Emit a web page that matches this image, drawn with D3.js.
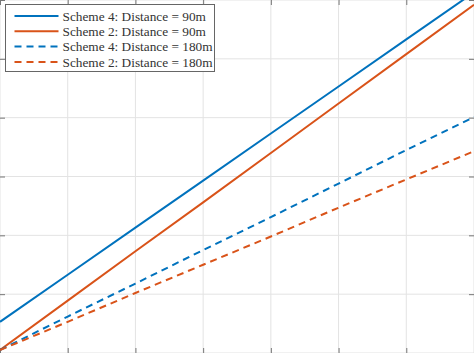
<!DOCTYPE html>
<html>
<head>
<meta charset="utf-8">
<script src="https://cdn.jsdelivr.net/npm/d3@7"></script>
<style>
  html, body { margin: 0; padding: 0; background: #fff; }
  svg { display: block; }
</style>
</head>
<body>
<div id="graph"></div>
<script>
// data (axis units: 7 x-intervals, 6 y-intervals, no labels shown)
let xValues = [0, 1, 2, 3, 4, 5, 6, 7];
let scheme4d90 = [0.53, 1.33, 2.13, 2.93, 3.73, 4.53, 5.33, 6.13];
let scheme2d90 = [0.05, 0.89, 1.73, 2.56, 3.40, 4.24, 5.08, 5.92];
let scheme4d180 = [0.05, 0.62, 1.18, 1.75, 2.31, 2.88, 3.45, 4.01];
let scheme2d180 = [0.05, 0.53, 1.02, 1.50, 1.98, 2.47, 2.95, 3.43];
let seriesNames = [
  "Scheme 4: Distance = 90m",
  "Scheme 2: Distance = 90m",
  "Scheme 4: Distance = 180m",
  "Scheme 2: Distance = 180m",
];
let xTicks = [0, 1, 2, 3, 4, 5, 6, 7];
let yTicks = [0, 1, 2, 3, 4, 5, 6];

let width = 474,
  height = 353;

let svg = d3
  .select("#graph")
  .append("svg")
  .attr("width", width)
  .attr("height", height);

let x = d3.scaleLinear().domain([0, 7]).range([0, width]);
let y = d3.scaleLinear().domain([0, 6]).range([height, 0]);

// grid
svg
  .append("g")
  .selectAll("line")
  .data(xTicks)
  .join("line")
  .attr("x1", (d) => x(d))
  .attr("x2", (d) => x(d))
  .attr("y1", 0)
  .attr("y2", height)
  .attr("stroke", "#e3e3e3")
  .attr("stroke-width", 1);
svg
  .append("g")
  .selectAll("line")
  .data(yTicks)
  .join("line")
  .attr("x1", 0)
  .attr("x2", width)
  .attr("y1", (d) => y(d))
  .attr("y2", (d) => y(d))
  .attr("stroke", "#e3e3e3")
  .attr("stroke-width", 1);

// tick marks on all four sides, pointing inward
let tickColor = "#777";
svg.append("g").attr("transform", "translate(0," + height + ")")
  .call(d3.axisTop(x).tickValues(xTicks).tickSize(5).tickFormat(""));
svg.append("g")
  .call(d3.axisBottom(x).tickValues(xTicks).tickSize(5).tickFormat(""));
svg.append("g")
  .call(d3.axisRight(y).tickValues(yTicks).tickSize(5).tickFormat(""));
svg.append("g").attr("transform", "translate(" + width + ",0)")
  .call(d3.axisLeft(y).tickValues(yTicks).tickSize(5).tickFormat(""));
svg.selectAll(".domain").remove();
svg.selectAll(".tick line").attr("stroke", tickColor);

// lines
svg.append("clipPath").attr("id", "clip")
  .append("rect").attr("width", width).attr("height", height);

let blue = "#0072BD",
  orange = "#D95319";
let series = [
  { name: seriesNames[0], values: scheme4d90, color: blue, dash: null },
  { name: seriesNames[1], values: scheme2d90, color: orange, dash: null },
  { name: seriesNames[2], values: scheme4d180, color: blue, dash: "7,5" },
  { name: seriesNames[3], values: scheme2d180, color: orange, dash: "7,5" },
];

let line = d3
  .line()
  .x((d, i) => x(xValues[i]))
  .y((d) => y(d));

svg
  .append("g")
  .attr("clip-path", "url(#clip)")
  .selectAll("path")
  .data(series)
  .join("path")
  .attr("d", (d) => line(d.values))
  .attr("fill", "none")
  .attr("stroke", (d) => d.color)
  .attr("stroke-width", 2)
  .attr("stroke-dasharray", (d) => d.dash);

// legend
let legend = svg.append("g").attr("transform", "translate(5.5,4.5)");
legend
  .append("rect")
  .attr("width", 209)
  .attr("height", 67)
  .attr("fill", "#fff")
  .attr("stroke", "#666")
  .attr("stroke-width", 1);

let rows = legend
  .selectAll("g.row")
  .data(series)
  .join("g")
  .attr("class", "row")
  .attr("transform", (d, i) => "translate(0," + (11.5 + i * 15.3) + ")");

rows
  .append("line")
  .attr("x1", 9)
  .attr("x2", 53)
  .attr("stroke", (d) => d.color)
  .attr("stroke-width", 2)
  .attr("stroke-dasharray", (d) => d.dash);

rows
  .append("text")
  .attr("x", 57)
  .attr("dy", "0.35em")
  .attr("font-family", "'Liberation Serif', 'Times New Roman', serif")
  .attr("font-size", "13.3px")
  .attr("fill", "#333")
  .text((d) => d.name);
</script>
</body>
</html>
